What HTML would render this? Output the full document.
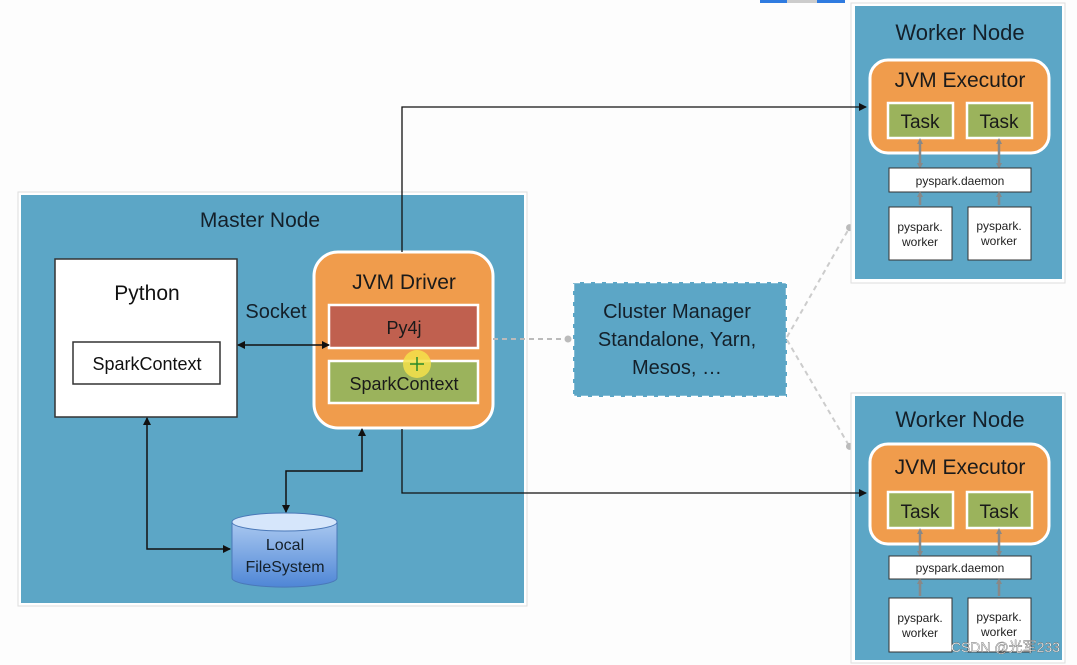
<!DOCTYPE html>
<html><head><meta charset="utf-8"><style>
html,body{margin:0;padding:0;background:#fdfdfd;}
svg{display:block;font-family:"Liberation Sans","Noto Sans CJK SC",sans-serif;}
</style></head><body>
<svg width="1077" height="665" viewBox="0 0 1077 665" xmlns="http://www.w3.org/2000/svg">
<defs>
<marker id="a" markerWidth="8" markerHeight="8" refX="7" refY="4" orient="auto-start-reverse" markerUnits="userSpaceOnUse"><path d="M0,0 L8,4 L0,8 z" fill="#111"/></marker>
<marker id="g" markerWidth="8" markerHeight="8" refX="7" refY="4" orient="auto" markerUnits="userSpaceOnUse"><circle cx="4" cy="4" r="3.5" fill="#bbb"/></marker>
<marker id="gs" markerWidth="6" markerHeight="6" refX="3" refY="3" orient="auto-start-reverse" markerUnits="userSpaceOnUse"><path d="M0,0 L6,3 L0,6 z" fill="#888"/></marker>
<linearGradient id="cyl" x1="0" y1="0" x2="0" y2="1"><stop offset="0" stop-color="#a9c8f0"/><stop offset="1" stop-color="#4f86d6"/></linearGradient>
</defs>
<rect x="760" y="0" width="85" height="3" fill="#2f7be0"/>
<rect x="787" y="0" width="30" height="3" fill="#ccc"/>
<!-- Master node -->
<rect x="18" y="192" width="509" height="414" fill="#fff" stroke="#ddd"/>
<rect x="21" y="195" width="503" height="408" fill="#5ca6c6"/>
<text x="260" y="227" font-size="21" text-anchor="middle" fill="#14202a">Master Node</text>
<rect x="55" y="259" width="182" height="158" fill="#fff" stroke="#333" stroke-width="1.5"/>
<text x="147" y="300" font-size="21" text-anchor="middle" fill="#111">Python</text>
<rect x="73" y="342" width="147" height="42" fill="#fff" stroke="#333" stroke-width="1.5"/>
<text x="147" y="370" font-size="18" text-anchor="middle" fill="#111">SparkContext</text>
<rect x="314" y="252" width="179" height="176" rx="24" fill="#f09c4c" stroke="#fff" stroke-width="3"/>
<text x="404" y="289" font-size="21" text-anchor="middle" fill="#1a1a1a">JVM Driver</text>
<rect x="329" y="305" width="149" height="43" fill="#c0604f" stroke="#fff" stroke-width="2.5"/>
<text x="404" y="334" font-size="18" text-anchor="middle" fill="#1a1a1a">Py4j</text>
<rect x="329" y="361" width="149" height="42" fill="#9bb35c" stroke="#fff" stroke-width="2.5"/>
<text x="404" y="390" font-size="18" text-anchor="middle" fill="#1a1a1a">SparkContext</text>
<circle cx="417" cy="364" r="14" fill="#f5e04a" opacity="0.85"/>
<path d="M417,357v14M410,364h14" stroke="#2a8a2a" stroke-width="1.5"/>
<text x="276" y="318" font-size="20" text-anchor="middle" fill="#14202a">Socket</text>
<line x1="238" y1="345" x2="329" y2="345" stroke="#111" stroke-width="1.5" marker-start="url(#a)" marker-end="url(#a)"/>
<!-- cylinder -->
<path d="M232,522 v56 a52,9 0 0 0 105,0 v-56" fill="url(#cyl)" stroke="#4a78b8"/>
<ellipse cx="284.5" cy="522" rx="52.5" ry="9" fill="#d6e6fb" stroke="#4a78b8"/>
<text x="285" y="550" font-size="16" text-anchor="middle" fill="#14202a">Local</text>
<text x="285" y="572" font-size="16" text-anchor="middle" fill="#14202a">FileSystem</text>
<polyline points="147,418 147,549 230,549" fill="none" stroke="#111" stroke-width="1.5" marker-start="url(#a)" marker-end="url(#a)"/>
<polyline points="286,512 286,471 362,471 362,429" fill="none" stroke="#111" stroke-width="1.5" marker-start="url(#a)" marker-end="url(#a)"/>
<!-- cluster manager -->
<line x1="493" y1="339" x2="571" y2="339" stroke="#bbb" stroke-width="2" stroke-dasharray="5,4" marker-end="url(#g)"/>
<rect x="573" y="282" width="214" height="115" fill="#5ca6c6" stroke="#fff" stroke-width="2.5" stroke-dasharray="7,4"/>
<text x="677" y="318" font-size="20" text-anchor="middle" fill="#14202a">Cluster Manager</text>
<text x="677" y="346" font-size="20" text-anchor="middle" fill="#14202a">Standalone, Yarn,</text>
<text x="677" y="374" font-size="20" text-anchor="middle" fill="#14202a">Mesos, …</text>
<line x1="787" y1="337" x2="851" y2="225" stroke="#ccc" stroke-width="2" stroke-dasharray="5,4" marker-end="url(#g)"/>
<line x1="787" y1="340" x2="851" y2="449" stroke="#ccc" stroke-width="2" stroke-dasharray="5,4" marker-end="url(#g)"/>
<!-- worker 1 -->
<g>
<rect x="851" y="3" width="214" height="280" fill="#fff" stroke="#ddd"/>
<rect x="855" y="6" width="207" height="273" fill="#5ca6c6"/>
<text x="960" y="40" font-size="22" text-anchor="middle" fill="#14202a">Worker Node</text>
<rect x="870" y="60" width="179" height="93" rx="18" fill="#f09c4c" stroke="#fff" stroke-width="3"/>
<text x="960" y="87" font-size="21" text-anchor="middle" fill="#1a1a1a">JVM Executor</text>
<rect x="888" y="103" width="65" height="35" fill="#9bb35c" stroke="#fff" stroke-width="2.5"/>
<text x="920" y="128" font-size="19" text-anchor="middle" fill="#1a1a1a">Task</text>
<rect x="967" y="103" width="65" height="35" fill="#9bb35c" stroke="#fff" stroke-width="2.5"/>
<text x="999" y="128" font-size="19" text-anchor="middle" fill="#1a1a1a">Task</text>
<line x1="920" y1="141" x2="920" y2="166" stroke="#888" stroke-width="2.5" marker-start="url(#gs)" marker-end="url(#gs)"/>
<line x1="999" y1="141" x2="999" y2="166" stroke="#888" stroke-width="2.5" marker-start="url(#gs)" marker-end="url(#gs)"/>
<rect x="889" y="168" width="142" height="24" fill="#fff" stroke="#333"/>
<text x="960" y="185" font-size="12" text-anchor="middle" fill="#222">pyspark.daemon</text>
<line x1="920" y1="194" x2="920" y2="205" stroke="#888" stroke-width="2.5" marker-start="url(#gs)"/>
<line x1="999" y1="194" x2="999" y2="205" stroke="#888" stroke-width="2.5" marker-start="url(#gs)"/>
<rect x="889" y="207" width="63" height="53" fill="#fff" stroke="#333"/>
<text x="920" y="231" font-size="12" text-anchor="middle" fill="#222">pyspark.</text>
<text x="920" y="246" font-size="12" text-anchor="middle" fill="#222">worker</text>
<rect x="968" y="207" width="63" height="53" fill="#fff" stroke="#333"/>
<text x="999" y="230" font-size="12" text-anchor="middle" fill="#222">pyspark.</text>
<text x="999" y="245" font-size="12" text-anchor="middle" fill="#222">worker</text>
</g>
<!-- worker 2 -->
<g>
<rect x="851" y="393" width="214" height="270" fill="#fff" stroke="#ddd"/>
<rect x="855" y="396" width="207" height="264" fill="#5ca6c6"/>
<text x="960" y="427" font-size="22" text-anchor="middle" fill="#14202a">Worker Node</text>
<rect x="870" y="444" width="179" height="100" rx="18" fill="#f09c4c" stroke="#fff" stroke-width="3"/>
<text x="960" y="474" font-size="21" text-anchor="middle" fill="#1a1a1a">JVM Executor</text>
<rect x="888" y="492" width="65" height="36" fill="#9bb35c" stroke="#fff" stroke-width="2.5"/>
<text x="920" y="518" font-size="19" text-anchor="middle" fill="#1a1a1a">Task</text>
<rect x="967" y="492" width="65" height="36" fill="#9bb35c" stroke="#fff" stroke-width="2.5"/>
<text x="999" y="518" font-size="19" text-anchor="middle" fill="#1a1a1a">Task</text>
<line x1="920" y1="531" x2="920" y2="554" stroke="#888" stroke-width="2.5" marker-start="url(#gs)" marker-end="url(#gs)"/>
<line x1="999" y1="531" x2="999" y2="554" stroke="#888" stroke-width="2.5" marker-start="url(#gs)" marker-end="url(#gs)"/>
<rect x="889" y="556" width="142" height="23" fill="#fff" stroke="#333"/>
<text x="960" y="572" font-size="12" text-anchor="middle" fill="#222">pyspark.daemon</text>
<line x1="920" y1="581" x2="920" y2="596" stroke="#888" stroke-width="2.5" marker-start="url(#gs)"/>
<line x1="999" y1="581" x2="999" y2="596" stroke="#888" stroke-width="2.5" marker-start="url(#gs)"/>
<rect x="889" y="598" width="63" height="54" fill="#fff" stroke="#333"/>
<text x="920" y="622" font-size="12" text-anchor="middle" fill="#222">pyspark.</text>
<text x="920" y="637" font-size="12" text-anchor="middle" fill="#222">worker</text>
<rect x="968" y="598" width="63" height="54" fill="#fff" stroke="#333"/>
<text x="999" y="621" font-size="12" text-anchor="middle" fill="#222">pyspark.</text>
<text x="999" y="636" font-size="12" text-anchor="middle" fill="#222">worker</text>
<text x="1060" y="652" font-size="14" text-anchor="end" fill="#fff" stroke="#666" stroke-width="0.4">CSDN @光军233</text>
</g>
<!-- driver to executors (on top) -->
<polyline points="402,252 402,107 866,107" fill="none" stroke="#111" stroke-width="1.3" marker-end="url(#a)"/>
<polyline points="402,429 402,493 866,493" fill="none" stroke="#111" stroke-width="1.3" marker-end="url(#a)"/>
</svg>
</body></html>
